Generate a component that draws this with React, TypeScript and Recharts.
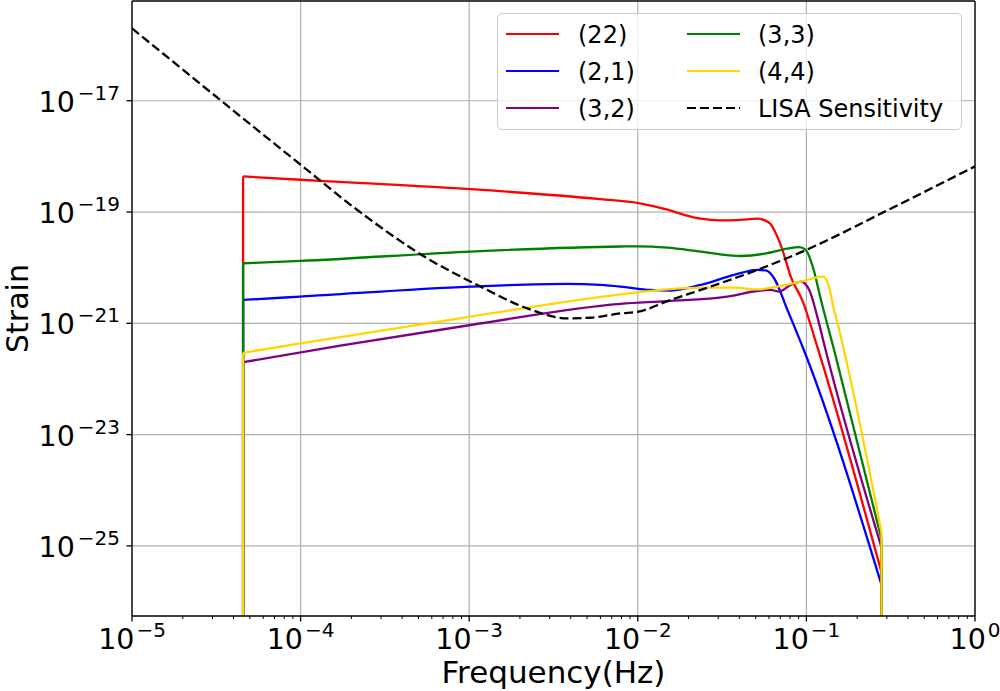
import React from 'react';
import { LineChart, Line, XAxis, YAxis, CartesianGrid, ReferenceLine, Legend } from 'recharts';

const FONT = '"DejaVu Sans", sans-serif';

// start / end of the waveform and an off-scale value for the drops at both ends
const fStart = 4.56e-5;
const fEnd = 0.279;
const floor = 1e-30;

// (22)
const f22 = [fStart, 1.0e-4, 1.72e-4, 1.02e-3, 6.0e-3, 1.01e-2, 1.5e-2, 1.88e-2, 2.36e-2, 3.1e-2, 4.08e-2, 5.12e-2, 5.58e-2, 6.15e-2, 6.43e-2, 7.21e-2, 8.07e-2, 9.5e-2, 0.116, fEnd];
const h22 = [4.37e-19, 3.8e-19, 3.47e-19, 2.57e-19, 1.7e-19, 1.45e-19, 1.1e-19, 8.91e-20, 7.59e-20, 7.08e-20, 7.24e-20, 7.59e-20, 7.24e-20, 6.03e-20, 4.79e-20, 2.09e-20, 6.92e-21, 2.51e-21, 3.8e-22, 3.31e-26];

// (2,1)
const f21 = [fStart, 1.0e-4, 1.02e-3, 3.81e-3, 6.0e-3, 7.9e-3, 1.19e-2, 1.57e-2, 2.36e-2, 3.72e-2, 5.12e-2, 5.74e-2, 6.43e-2, 7.72e-2, 9.66e-2, fEnd];
const h21 = [2.63e-21, 3.02e-21, 4.57e-21, 5.13e-21, 4.9e-21, 4.57e-21, 3.98e-21, 3.89e-21, 4.9e-21, 7.41e-21, 9.12e-21, 8.91e-21, 6.46e-21, 1.74e-21, 3.31e-22, 2.0e-26];

// (3,2)
const f32 = [fStart, 1.72e-4, 1.02e-3, 7.9e-3, 1.5e-2, 3.4e-2, 5.36e-2, 6.15e-2, 6.89e-2, 8.07e-2, 9.27e-2, 0.104, 0.116, 0.13, fEnd];
const h32 = [2.0e-22, 3.98e-22, 9.33e-22, 2.24e-21, 2.51e-21, 3.02e-21, 3.89e-21, 3.98e-21, 3.72e-21, 4.9e-21, 5.62e-21, 3.98e-21, 1.32e-21, 3.31e-22, 9.33e-26];

// (3,3)
const f33 = [fStart, 1.0e-4, 1.02e-3, 7.9e-3, 1.01e-2, 1.5e-2, 2.36e-2, 4.08e-2, 5.87e-2, 7.72e-2, 9.05e-2, 9.91e-2, 0.109, 0.122, 0.146, fEnd];
const h33 = [1.2e-20, 1.32e-20, 1.95e-20, 2.4e-20, 2.42e-20, 2.29e-20, 1.95e-20, 1.62e-20, 1.82e-20, 2.19e-20, 2.34e-20, 2.09e-20, 1.05e-20, 2.63e-21, 3.31e-22, 1.32e-25];

// (4,4)
const f44 = [fStart, 1.0e-4, 1.02e-3, 7.9e-3, 1.5e-2, 2.36e-2, 3.72e-2, 5.12e-2, 6.73e-2, 9.27e-2, 0.125, 0.133, 0.146, 0.153, fEnd];
const h44 = [2.95e-22, 4.37e-22, 1.32e-21, 3.31e-21, 4.07e-21, 4.37e-21, 4.37e-21, 4.07e-21, 4.57e-21, 5.62e-21, 6.92e-21, 5.62e-21, 1.74e-21, 1.0e-21, 1.74e-25];

// LISA sensitivity curve
const fLisa = [1e-5, 1e-4, 2.16e-4, 5.35e-4, 1.17e-3, 2.21e-3, 3.81e-3, 5.25e-3, 7.9e-3, 1.01e-2, 1.5e-2, 2.36e-2, 5.12e-2, 0.1, 0.32, 1];
const hLisa = [2.0e-16, 7.08e-19, 1.1e-19, 1.62e-20, 4.57e-21, 1.86e-21, 1.23e-21, 1.26e-21, 1.51e-21, 1.62e-21, 2.51e-21, 3.98e-21, 9.12e-21, 2.09e-20, 1.17e-19, 6.61e-19];

const xMajor = [1e-5, 1e-4, 1e-3, 1e-2, 1e-1, 1];
const xMinor = xMajor.slice(0, -1).flatMap((d) => [2, 3, 4, 5, 6, 7, 8, 9].map((m) => m * d));
const xTicks = [...xMajor, ...xMinor].sort((a, b) => a - b);
const yTicks = [1e-25, 1e-23, 1e-21, 1e-19, 1e-17];
const yDomain = [5.5e-27, 6.2e-16];

const toPoints = (f: number[], h: number[]) => f.map((x, i) => ({ f: x, h: h[i] }));

const series = [
  { name: '(22)', color: '#ff0000', f: f22, h: h22, cut: true },
  { name: '(2,1)', color: '#0000ff', f: f21, h: h21, cut: true },
  { name: '(3,2)', color: '#800080', f: f32, h: h32, cut: true },
  { name: '(3,3)', color: '#008000', f: f33, h: h33, cut: true },
  { name: '(4,4)', color: '#ffd700', f: f44, h: h44, cut: true },
  { name: 'LISA Sensitivity', color: '#000000', f: fLisa, h: hLisa, dash: '9 4' },
];

const expText = (e: number) => (e < 0 ? '\u2212' + Math.abs(e) : String(e));

function XTick(props: any) {
  const { x, y, payload } = props;
  const lg = Math.log10(payload.value);
  const e = Math.round(lg);
  if (Math.abs(lg - e) > 1e-6) {
    return <line x1={x} x2={x} y1={y} y2={y + 3} stroke="#000" strokeWidth={1} />;
  }
  return (
    <g>
      <line x1={x} x2={x} y1={y} y2={y + 5.5} stroke="#000" strokeWidth={1.3} />
      <text x={x} y={y + 33} textAnchor="middle" fontFamily={FONT} fontSize={28.5} fill="#000">
        <tspan>10</tspan>
        <tspan dx={2} dy={-12} fontSize={20}>{expText(e)}</tspan>
      </text>
    </g>
  );
}

function YTick(props: any) {
  const { x, y, payload } = props;
  const e = Math.round(Math.log10(payload.value));
  return (
    <g>
      <line x1={x - 5.5} x2={x} y1={y} y2={y} stroke="#000" strokeWidth={1.3} />
      <text x={x - 12} y={y + 11} textAnchor="end" fontFamily={FONT} fontSize={28.5} fill="#000">
        <tspan>10</tspan>
        <tspan dx={3} dy={-12} fontSize={20}>{expText(e)}</tspan>
      </text>
    </g>
  );
}

function XLabel(props: any) {
  const { viewBox } = props;
  return (
    <text x={viewBox.x + viewBox.width / 2} y={viewBox.y + 67} textAnchor="middle" fontFamily={FONT} fontSize={31} fill="#000">
      Frequency(Hz)
    </text>
  );
}

function YLabel(props: any) {
  const { viewBox } = props;
  const cx = 27.5;
  const cy = viewBox.y + viewBox.height / 2;
  return (
    <text x={cx} y={cy} transform={`rotate(-90 ${cx} ${cy})`} textAnchor="middle" fontFamily={FONT} fontSize={30} fill="#000">
      Strain
    </text>
  );
}

const rows = [19.7, 57, 94];
const cols = [{ line: 9, text: 81 }, { line: 190, text: 261 }];

function LegendBox() {
  return (
    <div
      style={{
        position: 'relative',
        width: 465,
        height: 117,
        boxSizing: 'border-box',
        border: '1px solid #cccccc',
        borderRadius: 5,
        background: 'rgba(255,255,255,0.8)',
        fontFamily: FONT,
        fontSize: 24,
        color: '#000',
      }}
    >
      {series.map((s, i) => {
        const col = cols[Math.floor(i / 3)];
        const ry = rows[i % 3];
        return (
          <React.Fragment key={s.name}>
            <svg style={{ position: 'absolute', left: col.line - 1, top: ry - 3 }} width={54} height={6}>
              <line x1={0} x2={53} y1={3} y2={3} stroke={s.color} strokeWidth={2.2} strokeDasharray={s.dash} />
            </svg>
            <div style={{ position: 'absolute', left: col.text - 1, top: ry - 13, height: 28, lineHeight: '28px', whiteSpace: 'nowrap' }}>
              {s.name}
            </div>
          </React.Fragment>
        );
      })}
    </div>
  );
}

export default function App() {
  const lines: React.ReactNode[] = [];
  series.forEach((s) => {
    const common = { stroke: s.color, strokeWidth: 2.3, dot: false, activeDot: false, isAnimationActive: false, dataKey: 'h' } as const;
    lines.push(<Line key={s.name} {...common} data={toPoints(s.f, s.h)} type="monotone" strokeDasharray={s.dash} />);
    if (s.cut) {
      const n = s.f.length - 1;
      // the strain is zero outside the signal band, so the trace drops off the bottom
      lines.push(<Line key={s.name + 'a'} {...common} data={toPoints([s.f[0], s.f[0]], [floor, s.h[0]])} type="linear" />);
      lines.push(<Line key={s.name + 'b'} {...common} data={toPoints([s.f[n], s.f[n]], [s.h[n], floor])} type="linear" />);
    }
  });

  return (
    <div style={{ position: 'absolute', left: 0, top: 0, background: '#fff' }}>
      <LineChart width={1000} height={691} margin={{ top: 1, right: 25, bottom: 0, left: 0 }}>
        <CartesianGrid stroke="#b0b0b0" strokeWidth={1.2} verticalValues={xMajor} horizontalValues={yTicks} />
        <XAxis
          type="number"
          dataKey="f"
          scale="log"
          domain={[1e-5, 1]}
          allowDataOverflow
          ticks={xTicks}
          interval={0}
          tickSize={0}
          tickMargin={0}
          tickLine={false}
          tick={(p: any) => <XTick {...p} />}
          axisLine={{ stroke: '#000', strokeWidth: 1.3 }}
          height={75}
          label={<XLabel />}
        />
        <YAxis
          type="number"
          scale="log"
          domain={yDomain}
          allowDataOverflow
          ticks={yTicks}
          interval={0}
          tickSize={0}
          tickMargin={0}
          tickLine={false}
          tick={(p: any) => <YTick {...p} />}
          axisLine={{ stroke: '#000', strokeWidth: 1.3 }}
          width={132}
          label={<YLabel />}
        />
        <ReferenceLine y={yDomain[1]} stroke="#000" strokeWidth={1.3} />
        <ReferenceLine x={1} stroke="#000" strokeWidth={1.3} />
        {lines}
        <Legend
          layout="vertical"
          verticalAlign="middle"
          align="center"
          wrapperStyle={{ top: 13, left: 497, width: 465, height: 117 }}
          content={() => <LegendBox />}
        />
      </LineChart>
    </div>
  );
}
